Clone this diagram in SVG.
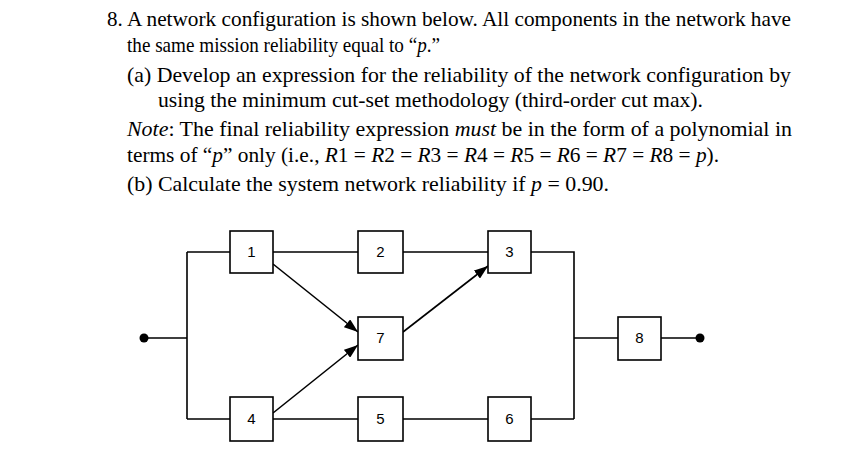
<svg xmlns="http://www.w3.org/2000/svg" width="853" height="458" viewBox="0 0 853 458">
<style>
.t{font-family:"Liberation Serif",serif;font-size:21px;fill:#000}
.b{fill:#fff;stroke:#000;stroke-width:1.6}
.n{font-family:"Liberation Sans",sans-serif;font-size:15px;text-anchor:middle}
.w{stroke:#000;stroke-width:1.6;fill:none}
</style>
<defs><marker id="a" markerWidth="14" markerHeight="10" refX="14" refY="5" orient="auto" markerUnits="userSpaceOnUse"><path d="M0,0L14,5L0,10z"/></marker></defs>
<rect width="853" height="458" fill="#fff"/>
<text class="t" x="107" y="26">8.</text>
<text class="t" x="127" y="26" textLength="664" lengthAdjust="spacingAndGlyphs">A network configuration is shown below. All components in the network have</text>
<text class="t" x="127" y="52" textLength="313" lengthAdjust="spacingAndGlyphs">the same mission reliability equal to “<tspan font-style="italic">p</tspan>.”</text>
<text class="t" x="127" y="82" textLength="664" lengthAdjust="spacingAndGlyphs">(a) Develop an expression for the reliability of the network configuration by</text>
<text class="t" x="158" y="107" textLength="545" lengthAdjust="spacingAndGlyphs">using the minimum cut-set methodology (third-order cut max).</text>
<text class="t" x="127" y="136" textLength="665" lengthAdjust="spacingAndGlyphs"><tspan font-style="italic">Note</tspan>: The final reliability expression <tspan font-style="italic">must</tspan> be in the form of a polynomial in</text>
<text class="t" x="127" y="162" textLength="592" lengthAdjust="spacingAndGlyphs">terms of “<tspan font-style="italic">p</tspan>” only (i.e., <tspan font-style="italic">R</tspan>1 = <tspan font-style="italic">R</tspan>2 = <tspan font-style="italic">R</tspan>3 = <tspan font-style="italic">R</tspan>4 = <tspan font-style="italic">R</tspan>5 = <tspan font-style="italic">R</tspan>6 = <tspan font-style="italic">R</tspan>7 = <tspan font-style="italic">R</tspan>8 = <tspan font-style="italic">p</tspan>).</text>
<text class="t" x="127" y="191" textLength="482" lengthAdjust="spacingAndGlyphs">(b) Calculate the system network reliability if <tspan font-style="italic">p</tspan> = 0.90.</text>
<g id="connectors">
<circle cx="144" cy="338" r="4.5"/>
<circle cx="700" cy="338" r="4.5"/>
<path class="w" d="M144,338H187M187,252V419M187,252H230M273,252H358M403,252H488M531,252H574V419M187,419H230M273,419H358M403,419H488M531,419H574M574,338H618M661,338H700"/>
<line class="w" x1="273" y1="264" x2="358" y2="332" marker-end="url(#a)"/>
<line class="w" x1="273" y1="413" x2="358" y2="345" marker-end="url(#a)"/>
<line class="w" x1="403" y1="332" x2="488" y2="266" marker-end="url(#a)"/>
</g>
<g id="n1"><rect class="b" x="230" y="231" width="43" height="42"/><text class="n" x="251.5" y="257">1</text></g>
<g id="n2"><rect class="b" x="358" y="231" width="45" height="42"/><text class="n" x="380.5" y="257">2</text></g>
<g id="n3"><rect class="b" x="488" y="231" width="43" height="42"/><text class="n" x="509.5" y="257">3</text></g>
<g id="n7"><rect class="b" x="358" y="317" width="45" height="43"/><text class="n" x="380.5" y="343">7</text></g>
<g id="n4"><rect class="b" x="230" y="397" width="43" height="44"/><text class="n" x="251.5" y="424">4</text></g>
<g id="n5"><rect class="b" x="358" y="397" width="45" height="44"/><text class="n" x="380.5" y="424">5</text></g>
<g id="n6"><rect class="b" x="488" y="397" width="43" height="44"/><text class="n" x="509.5" y="424">6</text></g>
<g id="n8"><rect class="b" x="618" y="317" width="43" height="43"/><text class="n" x="639.5" y="343">8</text></g>
</svg>
